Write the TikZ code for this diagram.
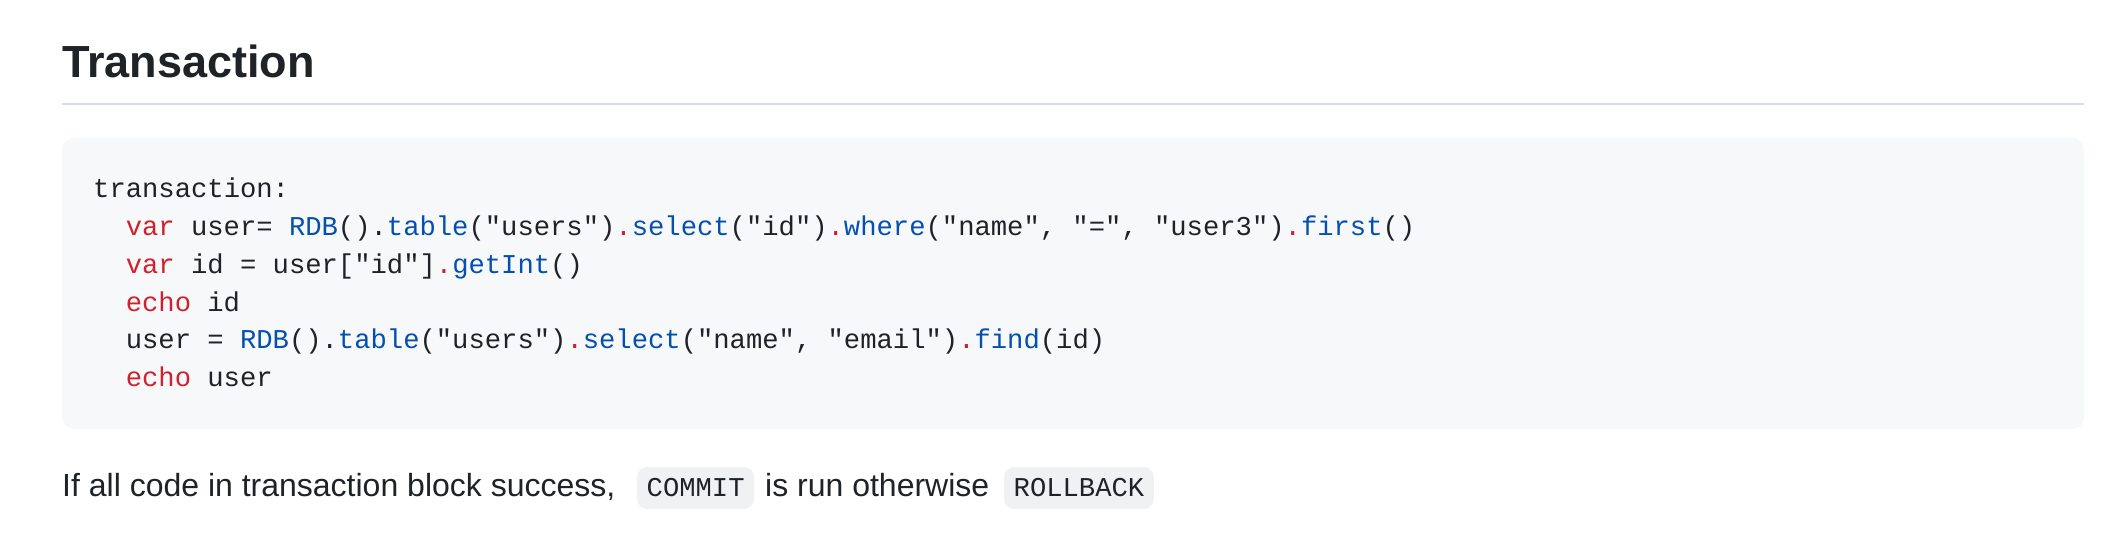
\documentclass[tikz,border=0pt]{standalone}
\usepackage{fontspec}
\setmainfont{Liberation Sans}
\setmonofont{Liberation Mono}
\definecolor{fg}{HTML}{1F2328}
\definecolor{kw}{HTML}{CF222E}
\definecolor{fn}{HTML}{0550AE}
\definecolor{codebg}{HTML}{F6F8FA}
\definecolor{inl}{HTML}{EFF1F3}
\definecolor{rulec}{HTML}{D8DEE4}
\newcommand{\K}[1]{\textcolor{kw}{#1}}
\newcommand{\F}[1]{\textcolor{fn}{#1}}
\begin{document}
\begin{tikzpicture}[x=1pt,y=-1pt,
  txt/.style={anchor=base west,inner sep=0pt,text=fg},
  code/.style={txt,font=\fontsize{27.2}{30}\selectfont\ttfamily},
  body/.style={txt,font=\fontsize{32}{36}\selectfont},
  inline/.style={anchor=base west,inner xsep=9.5pt,inner ysep=8pt,text height=21pt,text depth=5pt,
    fill=inl,rounded corners=10pt,text=fg,font=\fontsize{27.2}{30}\selectfont\ttfamily}]
\useasboundingbox (0,0) rectangle (2105,548);
\fill[white] (0,0) rectangle (2105,548);
\node[txt,font=\fontsize{45}{50}\selectfont\bfseries] (title) at (62,77.6) {Transaction};
\draw[rulec,line width=2.5pt] (62,104) -- (2084,104);
\fill[codebg,rounded corners=12pt] (62,138) rectangle (2084,429);
\node[code] (l0) at (93,197.5) {transaction:};
\node[code] (l1) at (125.6,236) {\K{var} user= \F{RDB}().\F{table}("users")\K{.}\F{select}("id")\K{.}\F{where}("name", "=", "user3")\K{.}\F{first}()};
\node[code] (l2) at (125.6,273.5) {\K{var} id = user["id"]\K{.}\F{getInt}()};
\node[code] (l3) at (125.6,311) {\K{echo} id};
\node[code] (l4) at (125.6,348.5) {user = \F{RDB}().\F{table}("users")\K{.}\F{select}("name", "email")\K{.}\F{find}(id)};
\node[code] (l5) at (125.6,386) {\K{echo} user};
\node[body] (p1) at (62,496) {If all code in transaction block success,};
\node[inline] (commit) at (637,496) {COMMIT};
\node[body] (p2) at (765,496) {is run otherwise};
\node[inline] (rollback) at (1004,496) {ROLLBACK};
\end{tikzpicture}
\end{document}
